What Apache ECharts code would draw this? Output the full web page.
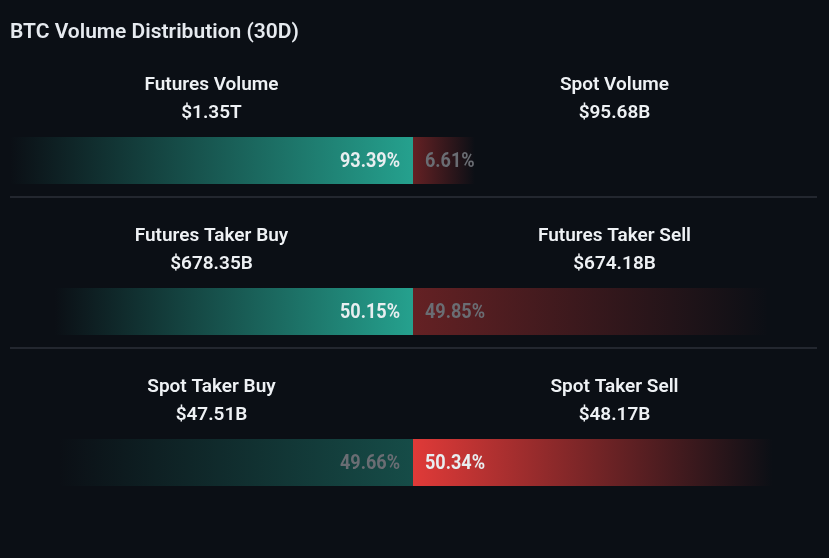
<!DOCTYPE html>
<html>
<head>
<meta charset="utf-8">
<script src="https://cdn.jsdelivr.net/npm/echarts@6/dist/echarts.min.js"></script>
<style>
html,body{margin:0;padding:0;background:#0b0f15;}
#chart{width:829px;height:558px;}
</style>
</head>
<body>
<div id="chart"></div>
<script>
const titleText = 'BTC Volume Distribution (30D)';
const categories = ['Volume', 'Futures Taker', 'Spot Taker'];
const leftNames = ['Futures Volume', 'Futures Taker Buy', 'Spot Taker Buy'];
const leftAmounts = ['$1.35T', '$678.35B', '$47.51B'];
const rightNames = ['Spot Volume', 'Futures Taker Sell', 'Spot Taker Sell'];
const rightAmounts = ['$95.68B', '$674.18B', '$48.17B'];
const leftPct = [93.39, 50.15, 49.66];
const rightPct = [6.61, 49.85, 50.34];

const AXIS_MAX = 56.4;
const BG = '#0b0f15';
const GREEN = [37, 161, 142];
const RED = [224, 58, 56];
const DIM = 0.42;

function rgba(c, a) { return 'rgba(' + c[0] + ',' + c[1] + ',' + c[2] + ',' + a + ')'; }
function grad(c, a, toLeft) {
  return new echarts.graphic.LinearGradient(0, 0, 1, 0, toLeft ? [
    { offset: 0, color: rgba(c, 0) },
    { offset: 1, color: rgba(c, a) }
  ] : [
    { offset: 0, color: rgba(c, a) },
    { offset: 1, color: rgba(c, 0) }
  ]);
}
const labelFont = 'Roboto, "Noto Sans", sans-serif';

const leftData = leftPct.map((v, i) => ({
  value: -v,
  itemStyle: { color: grad(GREEN, v >= rightPct[i] ? 1 : DIM, true) }
}));
const rightData = rightPct.map((v, i) => ({
  value: v,
  itemStyle: { color: grad(RED, v > leftPct[i] ? 1 : DIM, false) }
}));

const chart = echarts.init(document.getElementById('chart'));
chart.setOption({
  backgroundColor: BG,
  animation: false,
  title: {
    text: titleText, left: 10, top: 22, padding: 0,
    textStyle: { color: '#e6eaef', fontSize: 21, fontWeight: 600, fontFamily: labelFont }
  },
  grid: { left: 10, right: 13, top: 85, bottom: 20, containLabel: false },
  xAxis: { type: 'value', min: -AXIS_MAX, max: AXIS_MAX, show: false },
  yAxis: { type: 'category', data: categories, inverse: true, show: false },
  series: [
    { type: 'bar', data: leftData, barWidth: 47, barGap: '-100%', clip: true, z: 2 },
    { type: 'bar', data: rightData, barWidth: 47, barGap: '-100%', clip: true, barMinHeight: 62, z: 2 },
    {
      type: 'custom', silent: true, clip: false, z: 10,
      data: categories.map((c, i) => [0, i]),
      renderItem: function (params, api) {
        const i = api.value(1);
        const c = api.coord([0, i]);
        const lx = api.coord([-AXIS_MAX / 2, i])[0];
        const rx = api.coord([AXIS_MAX / 2, i])[0];
        const x0 = api.coord([-AXIS_MAX, i])[0];
        const x1 = api.coord([AXIS_MAX, i])[0];
        const txt = (x, y, s) => ({
          type: 'text', style: {
            x: x, y: y, text: s, fill: '#eef1f4', align: 'center', verticalAlign: 'middle',
            font: '600 19px ' + labelFont
          }
        });
        const leftWin = leftPct[i] >= rightPct[i];
        const pct = (s, right, win) => ({
          type: 'text', x: c[0] + (right ? 12 : -13), y: c[1] + 1, scaleX: 0.86,
          style: {
            x: 0, y: 0, text: s, fill: win ? '#e8eef0' : '#6a6d73', opacity: 1,
            align: right ? 'left' : 'right', verticalAlign: 'middle',
            font: 'bold 21px ' + labelFont
          }
        });
        const children = [
          txt(lx, c[1] - 75, leftNames[i]),
          txt(lx, c[1] - 47.5, leftAmounts[i]),
          txt(rx, c[1] - 75, rightNames[i]),
          txt(rx, c[1] - 47.5, rightAmounts[i]),
          pct(leftPct[i].toFixed(2) + '%', false, leftWin),
          pct(rightPct[i].toFixed(2) + '%', true, !leftWin)
        ];
        if (i < categories.length - 1) {
          children.push({
            type: 'line', shape: { x1: x0, y1: c[1] + 36.5, x2: x1 + 1, y2: c[1] + 36.5 },
            style: { stroke: '#2c3038', lineWidth: 1.5 }
          });
        }
        return { type: 'group', children: children };
      }
    }
  ]
});
</script>
</body>
</html>
